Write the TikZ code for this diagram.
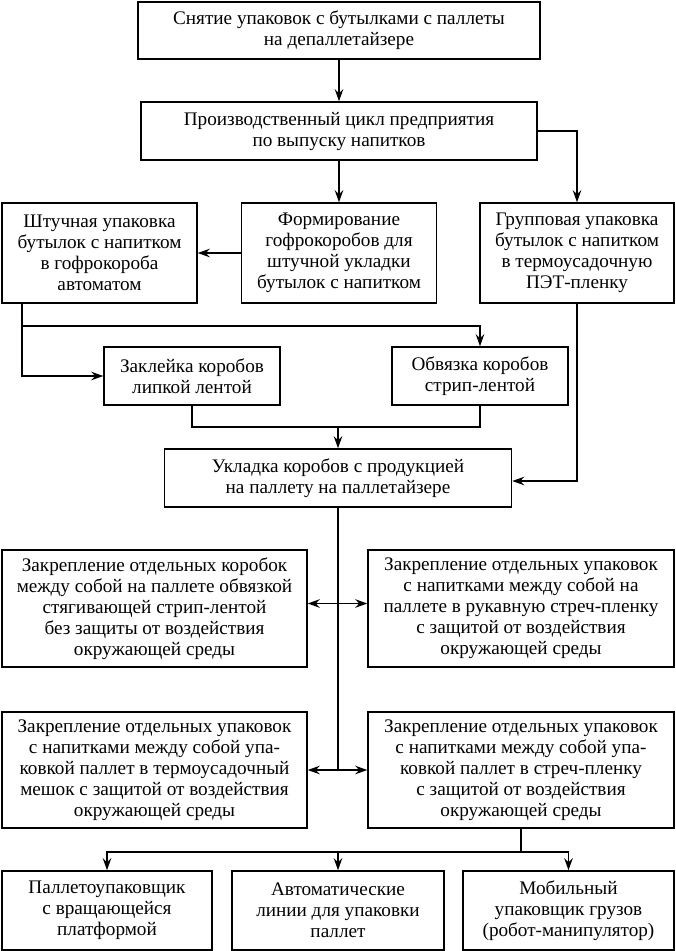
\documentclass[tikz,border=0pt]{standalone}
\usepackage{fontspec}
\setmainfont{Liberation Serif}
\usetikzlibrary{arrows.meta}
\tikzset{
  x=1pt,y=-1pt,
  box/.style={draw,line width=1.5pt,align=center,inner sep=1pt,
    font=\fontsize{19.2}{21}\selectfont},
  conn/.style={line width=1.5pt},
  arr/.style={conn,-{Stealth[length=12pt,width=8.5pt]}},
  darr/.style={conn,{Stealth[length=12pt,width=8.5pt]}-{Stealth[length=12pt,width=8.5pt]}}
}
\begin{document}
\begin{tikzpicture}
\useasboundingbox (0,0) rectangle (676,951);
\node[box,minimum width=402pt,minimum height=57pt] (b1) at (339,30.5)
  {Снятие упаковок с бутылками с паллеты\\на депаллетайзере};
\node[box,minimum width=396pt,minimum height=58pt] (b2) at (339,131)
  {Производственный цикл предприятия\\по выпуску напитков};
\node[box,minimum width=195pt,minimum height=100pt] (b3) at (99.5,253)
  {Штучная упаковка\\бутылок с напитком\\в гофрокороба\\автоматом};
\node[box,minimum width=195pt,minimum height=100pt] (b4) at (339,253)
  {Формирование\\гофрокоробов для\\штучной укладки\\бутылок с напитком};
\node[box,minimum width=194pt,minimum height=100pt] (b5) at (577,253)
  {Групповая упаковка\\бутылок с напитком\\в термоусадочную\\ПЭТ-пленку};
\node[box,minimum width=176pt,minimum height=58pt] (b6) at (192,376)
  {Заклейка коробов\\липкой лентой};
\node[box,minimum width=176pt,minimum height=58pt] (b7) at (480,376)
  {Обвязка коробов\\стрип-лентой};
\node[box,minimum width=347pt,minimum height=58pt] (b8) at (338,478)
  {Укладка коробов с продукцией\\на паллету на паллетайзере};
\node[box,minimum width=305pt,minimum height=117pt] (b9) at (154.5,608.5)
  {Закрепление отдельных коробок\\между собой на паллете обвязкой\\стягивающей стрип-лентой\\без защиты от воздействия\\окружающей среды};
\node[box,minimum width=306pt,minimum height=117pt] (b10) at (521,608.5)
  {Закрепление отдельных упаковок\\с напитками между собой на\\паллете в рукавную стреч-пленку\\с защитой от воздействия\\окружающей среды};
\node[box,minimum width=305pt,minimum height=116pt] (b11) at (154.5,770)
  {Закрепление отдельных упаковок\\с напитками между собой упа-\\ковкой паллет в термоусадочный\\мешок с защитой от воздействия\\окружающей среды};
\node[box,minimum width=306pt,minimum height=116pt] (b12) at (521,770)
  {Закрепление отдельных упаковок\\с напитками между собой упа-\\ковкой паллет в стреч-пленку\\с защитой от воздействия\\окружающей среды};
\node[box,minimum width=210pt,minimum height=79pt] (b13) at (107,910.5)
  {Паллетоупаковщик\\с вращающейся\\платформой};
\node[box,minimum width=212pt,minimum height=79pt] (b14) at (338,910.5)
  {Автоматические\\линии для упаковки\\паллет};
\node[box,minimum width=211pt,minimum height=79pt] (b15) at (568.5,910.5)
  {Мобильный\\упаковщик грузов\\(робот-манипулятор)};
% connectors
\draw[arr] (b1.south) -- (b2.north);
\draw[arr] (b2.east) -| (b5.north);
\draw[arr] (b2.south) -- (b4.north);
\draw[arr] (b4.west) -- (b3.east);
\coordinate (s3) at ([xshift=-77.5pt]b3.south);
\draw[arr] (s3) |- (b6.west);
\coordinate (j3) at (22,326);
\draw[arr] (j3) -| (b7.north);
\draw[conn] (b6.south) -- ++(0,21) coordinate (j6) -| (b7.south);
\draw[arr] (b8.north |- j6) -- (b8.north);
\draw[arr] (b5.south) |- ([yshift=-3pt]b8.east);
\coordinate (c2) at (b8.south |- b11.east);
\draw[conn] (b8.south) -- (c2);
\draw[darr] ([yshift=5pt]b9.east) -- ([yshift=5pt]b10.west);
\draw[darr] (b11.east) -- (b12.west);
\draw[conn] (b12.south) -- ++(0,23) coordinate (bj);
\draw[arr] (bj) -| (b15.north);
\draw[arr] (bj) -| (b13.north);
\draw[arr] (b14.north |- bj) -- (b14.north);
\end{tikzpicture}
\end{document}
